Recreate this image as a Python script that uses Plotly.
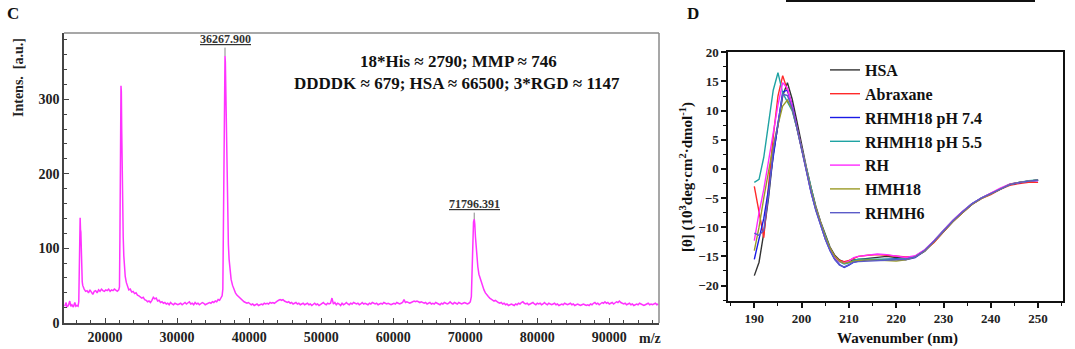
import plotly.graph_objects as go

W, H = 1075, 349

# ---------------- Panel C: MALDI-TOF spectrum ----------------
ms_mz = [14400, 14600, 14700, 14900, 15100, 15250, 15400, 15600, 15800, 15950, 16100, 16250, 16350, 16420, 16480, 16540, 16590, 16640, 16700, 16760, 16830, 16900, 16980,
         17100, 17300, 17500, 17700, 17900, 18100, 18300, 18500, 18700, 18900, 19100, 19300, 19500, 19700, 19900, 20100, 20300, 20500, 20700, 20900, 21100, 21300, 21500, 21700, 21900,
         22000, 22060, 22110, 22160, 22210, 22260, 22310, 22370, 22440, 22520, 22600, 22700, 22800, 22950, 23100, 23300, 23500, 23700, 23900, 24100, 24300, 24500, 24700, 24900,
         25100, 25300, 25500, 25700, 25900, 26100, 26300, 26500, 26700, 26900, 27100, 27300, 27500, 27700, 27900, 28100, 28300, 28500, 28700, 28900, 29100, 29300, 29500, 29700, 29900,
         30100, 30300, 30500, 30700, 30900, 31100, 31300, 31500, 31700, 31900, 32100, 32300, 32500, 32700, 32900, 33100, 33300, 33500, 33700, 33900, 34100, 34300, 34500, 34700, 34900,
         35100, 35300, 35500, 35700, 35900, 36100, 36250, 36350, 36420, 36480, 36540, 36600, 36650, 36700, 36760, 36820, 36880, 36950, 37030, 37120, 37220, 37350, 37500, 37700, 37900,
         38100, 38300, 38500, 38700, 38900, 39100, 39300, 39500, 39700, 39900, 40100, 40300, 40500, 40700, 40900, 41100, 41300, 41500, 41700, 41900, 42100, 42300, 42500, 42700, 42900,
         43100, 43300, 43500, 43700, 43900, 44100, 44300, 44500, 44700, 44900, 45100, 45300, 45500, 45700, 45900, 46100, 46300, 46500, 46700, 46900, 47100, 47300, 47500, 47700, 47900,
         48100, 48300, 48500, 48700, 48900, 49100, 49300, 49500, 49700, 49900, 50100, 50300, 50500, 50700, 50900, 51100, 51300, 51500, 51700, 51900, 52100, 52300, 52500, 52700, 52900,
         53100, 53300, 53500, 53700, 53900, 54100, 54300, 54500, 54700, 54900, 55100, 55300, 55500, 55700, 55900, 56100, 56300, 56500, 56700, 56900, 57100, 57300, 57500, 57700, 57900,
         58100, 58300, 58500, 58700, 58900, 59100, 59300, 59500, 59700, 59900, 60100, 60300, 60500, 60700, 60900, 61100, 61300, 61500, 61700, 61900, 62100, 62300, 62500, 62700, 62900,
         63100, 63300, 63500, 63700, 63900, 64100, 64300, 64500, 64700, 64900, 65100, 65300, 65500, 65700, 65900, 66100, 66300, 66500, 66700, 66900, 67100, 67300, 67500, 67700, 67900,
         68100, 68300, 68500, 68700, 68900, 69100, 69300, 69500, 69700, 69900, 70100, 70300, 70500, 70700, 70850, 70950, 71050, 71150, 71250, 71330, 71420, 71520, 71620, 71750, 71900,
         72050, 72200, 72400, 72600, 72800, 73000, 73200, 73400, 73600, 73800, 74000, 74200, 74400, 74600, 74800, 75000, 75200, 75400, 75600, 75800, 76000, 76200, 76400, 76600, 76800,
         77000, 77200, 77400, 77600, 77800, 78000, 78200, 78400, 78600, 78800, 79000, 79200, 79400, 79600, 79800, 80000, 80200, 80400, 80600, 80800, 81000, 81200, 81400, 81600, 81800,
         82000, 82200, 82400, 82600, 82800, 83000, 83200, 83400, 83600, 83800, 84000, 84200, 84400, 84600, 84800, 85000, 85200, 85400, 85600, 85800, 86000, 86200, 86400, 86600, 86800,
         87000, 87200, 87400, 87600, 87800, 88000, 88200, 88400, 88600, 88800, 89000, 89200, 89400, 89600, 89800, 90000, 90200, 90400, 90600, 90800, 91000, 91200, 91400, 91600, 91800,
         92000, 92200, 92400, 92600, 92800, 93000, 93200, 93400, 93600, 93800, 94000, 94200, 94400, 94600, 94800, 95000, 95200, 95400, 95600, 95800, 96000, 96200, 96400, 96600, 96800]

ms_int = [22, 27, 21, 23, 29, 22, 24, 21, 27, 22, 23, 22, 28, 70, 120, 141, 125, 122, 95, 62, 55, 50, 46,
          45, 42, 43, 40, 44, 41, 38, 42, 43, 40, 44, 42, 45, 43, 42, 44, 43, 45, 42, 44, 43, 45, 44, 42, 44,
          48, 110, 200, 290, 318, 310, 260, 200, 150, 115, 90, 72, 62, 54, 48, 44, 45, 41, 42, 39, 40, 37, 36, 35,
          33, 34, 31, 30, 28, 29, 27, 30, 34, 32, 33, 29, 30, 27, 28, 26, 27, 25, 26, 24, 27, 25, 24, 26, 25,
          24, 25, 26, 24, 25, 27, 25, 26, 28, 25, 26, 24, 27, 25, 26, 24, 25, 27, 26, 24, 25, 26, 27, 26, 28,
          27, 29, 28, 31, 30, 33, 36, 45, 120, 220, 300, 345, 358, 350, 310, 250, 200, 160, 130, 105, 85, 70, 58, 50, 44,
          40, 37, 35, 33, 31, 30, 28, 27, 26, 27, 25, 24, 25, 23, 24, 25, 23, 24, 25, 24, 26, 25, 26, 25, 27,
          26, 27, 26, 28, 29, 30, 31, 30, 31, 29, 28, 27, 28, 26, 27, 25, 26, 27, 25, 26, 24, 25, 26, 24, 25,
          26, 24, 25, 23, 24, 26, 24, 25, 23, 24, 25, 27, 25, 24, 26, 25, 26, 33, 25, 27, 24, 26, 25, 23, 26,
          24, 25, 27, 25, 24, 26, 25, 27, 26, 25, 26, 24, 25, 27, 25, 26, 25, 24, 26, 25, 27, 26, 25, 26, 24,
          25, 26, 25, 27, 26, 25, 26, 25, 24, 25, 26, 25, 27, 26, 25, 26, 27, 31, 27, 28, 27, 26, 27, 28, 29,
          28, 29, 28, 27, 28, 27, 26, 27, 25, 26, 27, 25, 26, 25, 27, 26, 25, 24, 26, 25, 27, 26, 25, 26, 28,
          26, 25, 27, 26, 25, 27, 26, 25, 26, 27, 26, 25, 26, 28, 35, 70, 115, 135, 139, 132, 115, 98, 88, 75, 65,
          60, 54, 48, 44, 40, 37, 35, 33, 32, 30, 29, 30, 28, 27, 26, 27, 25, 26, 24, 25, 23, 24, 25, 24, 23,
          25, 24, 26, 25, 27, 28, 26, 25, 26, 24, 25, 26, 27, 25, 24, 26, 25, 26, 24, 25, 27, 25, 24, 26, 25,
          24, 25, 26, 24, 25, 23, 24, 25, 24, 26, 25, 24, 25, 26, 24, 25, 23, 24, 25, 24, 23, 24, 25, 24, 23,
          24, 23, 25, 24, 26, 27, 25, 26, 24, 25, 27, 26, 28, 26, 27, 25, 26, 27, 25, 26, 28, 27, 29, 27, 26,
          25, 26, 24, 25, 26, 24, 25, 23, 24, 25, 24, 26, 25, 24, 23, 24, 25, 26, 24, 25, 24, 25, 26, 24, 25]

peak_labels = ["36267.900", "71796.391"]
peak_x = [36650, 71250]
peak_y = [358, 139]
ms_xticks = [20000, 30000, 40000, 50000, 60000, 70000, 80000, 90000]
ms_yticks = [0, 100, 200, 300]

# ---------------- Panel D: CD spectra ----------------
wl = [190, 191, 192, 193, 194, 195, 196, 197, 198, 199, 200, 201, 202, 203, 204, 205, 206, 207, 208, 209, 210, 211, 212,
      214, 216, 218, 220, 222, 224, 226, 228, 230, 232, 234, 236, 238, 240, 242, 244, 246, 248, 250]

cd_hsa = [-18.3, -16.0, -11.0, -5.0, 2.5, 7.5, 12.5, 14.8, 12.0, 8.2, 4.0, 0.3, -3.2, -6.4, -9.0, -11.4, -13.4, -14.8, -15.6, -16.0, -15.9, -15.6, -15.5,
          -15.3, -15.2, -15.0, -15.2, -15.3, -15.0, -14.1, -12.5, -10.7, -9.0, -7.5, -6.1, -5.0, -4.2, -3.3, -2.6, -2.3, -2.1, -1.9]
cd_abraxane = [-3.0, -7.5, -11.8, -3.0, 5.5, 12.5, 16.0, 13.5, 10.8, 7.2, 3.4, -0.4, -3.8, -6.9, -9.4, -11.7, -13.6, -15.0, -15.7, -15.9, -15.7, -15.3, -15.0,
               -14.8, -14.7, -14.8, -15.0, -15.1, -15.0, -14.0, -12.6, -10.8, -9.0, -7.5, -6.1, -5.1, -4.4, -3.5, -2.8, -2.5, -2.3, -2.3]
cd_rhmh18_74 = [-15.5, -12.0, -8.5, -3.5, 2.0, 7.5, 13.2, 13.5, 11.0, 7.3, 3.4, -0.5, -4.0, -7.0, -9.6, -12.0, -14.0, -15.5, -16.4, -16.9, -16.5, -16.0, -15.8,
                -15.6, -15.6, -15.5, -15.4, -15.6, -15.2, -14.1, -12.4, -10.6, -8.9, -7.4, -6.0, -5.0, -4.2, -3.4, -2.7, -2.4, -2.1, -2.0]
cd_rhmh18_55 = [-2.3, -1.8, 2.0, 8.0, 13.5, 16.5, 13.0, 11.5, 10.0, 7.0, 3.5, 0.0, -3.5, -6.6, -9.2, -11.6, -13.6, -15.1, -15.9, -16.3, -16.1, -15.7, -15.5,
                -15.5, -15.5, -15.6, -15.5, -15.4, -15.0, -13.9, -12.3, -10.5, -8.8, -7.3, -6.0, -5.0, -4.2, -3.4, -2.7, -2.3, -2.0, -1.9]
cd_rh = [-12.3, -7.5, -3.5, 1.5, 6.5, 11.0, 14.8, 13.8, 10.8, 7.2, 3.3, -0.4, -3.8, -6.8, -9.4, -11.8, -13.8, -15.2, -15.9, -16.1, -15.8, -15.2, -15.0,
         -14.8, -14.6, -14.7, -15.0, -15.2, -14.9, -13.9, -12.3, -10.5, -8.8, -7.3, -6.0, -5.0, -4.1, -3.3, -2.6, -2.3, -2.1, -2.0]
cd_hmh18 = [-14.0, -10.0, -5.0, -0.5, 4.0, 7.5, 10.8, 11.8, 10.2, 7.0, 3.4, -0.2, -3.6, -6.7, -9.3, -11.6, -13.6, -15.0, -15.8, -16.2, -16.0, -15.8, -15.7,
            -15.6, -15.6, -15.7, -15.8, -15.6, -15.1, -14.1, -12.5, -10.7, -9.0, -7.5, -6.1, -5.1, -4.3, -3.4, -2.7, -2.3, -2.1, -1.9]
cd_rhmh6 = [-11.0, -11.4, -10.5, -4.5, 3.0, 8.0, 12.8, 12.6, 10.4, 7.0, 3.2, -0.6, -4.0, -7.1, -9.7, -12.0, -14.0, -15.5, -16.5, -16.8, -16.4, -16.0, -15.9,
            -15.8, -15.8, -15.6, -15.5, -15.5, -15.1, -14.0, -12.4, -10.6, -8.9, -7.4, -6.0, -5.0, -4.2, -3.4, -2.7, -2.3, -2.1, -1.9]

cd_names = ["HSA", "Abraxane", "RHMH18 pH 7.4", "RHMH18 pH 5.5", "RH", "HMH18", "RHMH6"]
cd_series = [cd_hsa, cd_abraxane, cd_rhmh18_74, cd_rhmh18_55, cd_rh, cd_hmh18, cd_rhmh6]
cd_colors = ["#333333", "#ff2a2a", "#1a1ae6", "#1fa3a3", "#ff2aff", "#9a9a26", "#5b5bc8"]
cd_xticks = [190, 200, 210, 220, 230, 240, 250]
cd_yticks = [-20, -15, -10, -5, 0, 5, 10, 15, 20]

SERIF = "Liberation Serif, Times New Roman, serif"


def px(x):
    return x / W


def py(y):
    return 1 - y / H


fig = go.Figure()

fig.add_trace(go.Scatter(x=ms_mz, y=ms_int, mode="lines", line=dict(color="#ff33ff", width=1.5),
                         xaxis="x", yaxis="y", showlegend=False, hoverinfo="skip"))

for name, ser, col in zip(cd_names, cd_series, cd_colors):
    fig.add_trace(go.Scatter(x=wl, y=ser, mode="lines", name=name, line=dict(color=col, width=1.4),
                             xaxis="x2", yaxis="y2"))

tickfont_c = dict(family=SERIF, size=14, color="#222", weight="bold")
tickfont_d = dict(family=SERIF, size=13, color="#222", weight="bold")

fig.update_layout(
    template="none",
    width=W, height=H,
    margin=dict(l=0, r=0, t=0, b=0, autoexpand=False),
    paper_bgcolor="white", plot_bgcolor="white",
    font=dict(family=SERIF, color="#222"),
    xaxis=dict(domain=[px(64), px(659)], range=[14300, 96900], tickvals=ms_xticks, tickformat="d",
               automargin=False,
               ticks="inside", ticklen=5, tickcolor="#444", showgrid=False, zeroline=False,
               showline=True, linecolor="#444", linewidth=1.5, tickfont=tickfont_c,
               minor=dict(dtick=2000, ticks="inside", ticklen=3, tickcolor="#444", showgrid=False), anchor="y"),
    yaxis=dict(domain=[py(323), py(33)], range=[-0.5, 389], tickvals=ms_yticks,
               automargin=False,
               ticks="inside", ticklen=5, tickcolor="#444", showgrid=False, zeroline=False,
               showline=True, linecolor="#444", linewidth=1.5, tickfont=tickfont_c,
               minor=dict(dtick=20, ticks="inside", ticklen=3, tickcolor="#444", showgrid=False), anchor="x"),
    xaxis2=dict(domain=[px(728.3), px(1062.7)], range=[184.5, 255.2], tickvals=cd_xticks,
                automargin=False,
                ticks="outside", ticklen=5, tickwidth=1.5, tickcolor="#111", showgrid=False, zeroline=False,
                showline=True, mirror=True, linecolor="#111", linewidth=2, tickfont=tickfont_d,
                minor=dict(dtick=5, tick0=185, ticks="outside", ticklen=3, tickwidth=1.2, tickcolor="#111", showgrid=False),
                anchor="y2"),
    yaxis2=dict(domain=[py(300.7), py(52.3)], range=[-22.6, 20], tickvals=cd_yticks,
                automargin=False,
                ticks="outside", ticklen=5, tickwidth=1.5, tickcolor="#111", showgrid=False, zeroline=False,
                showline=True, mirror=True, linecolor="#111", linewidth=2, tickfont=tickfont_d,
                minor=dict(dtick=2.5, tick0=0, ticks="outside", ticklen=3, tickwidth=1.2, tickcolor="#111", showgrid=False),
                anchor="x2"),
    legend=dict(x=px(825), y=py(53), xanchor="left", yanchor="top", bgcolor="rgba(0,0,0,0)",
                font=dict(family=SERIF, size=16, color="#111", weight="bold"), itemwidth=30,
                tracegroupgap=0),
)

# frame (top / right) of panel C in grey
fig.add_shape(type="line", xref="paper", yref="paper", x0=px(64), x1=px(659), y0=py(33), y1=py(33),
              line=dict(color="#8a8a8a", width=1.5))
fig.add_shape(type="line", xref="paper", yref="paper", x0=px(659), x1=px(659), y0=py(33), y1=py(323),
              line=dict(color="#8a8a8a", width=1.5))
# thin line at the top edge (above panel D)
fig.add_shape(type="line", xref="paper", yref="paper", x0=px(786), x1=px(1035), y0=py(1), y1=py(1),
              line=dict(color="#111", width=2))


def note(text, x, y, size, angle=0, color="#111"):
    return dict(text=text, x=px(x), y=py(y), xref="paper", yref="paper", showarrow=False,
                xanchor="center", yanchor="middle", textangle=angle,
                font=dict(family=SERIF, size=size, color=color))


ann = []
ann.append(note("<b>C</b>", 13, 13, 17))
ann.append(note("<b>D</b>", 693, 13, 17))
ann.append(note("<b>Intens.  [a.u.]</b>", 18, 78, 14, -90, "#222"))
ann.append(note("<b>m/z</b>", 650, 338, 14, 0, "#222"))
ann.append(note("<b>18*His ≈ 2790; MMP ≈ 746</b>", 458, 62, 17))
ann.append(note("<b>DDDDK ≈ 679; HSA ≈ 66500; 3*RGD ≈ 1147</b>", 457, 84, 17))
for lab, x, y, ay in zip(peak_labels, peak_x, peak_y, [-17, -15]):
    ann.append(dict(text="<b><u>" + lab + "</u></b>", x=x, y=y, xref="x", yref="y", showarrow=True,
                    arrowhead=0, arrowwidth=1, arrowcolor="#888", ax=0, ay=ay,
                    font=dict(family=SERIF, size=12, color="#333")))
ann.append(note("<b>Wavenumber (nm)</b>", 897, 338, 15))
ann.append(note("<b>[θ] (10<sup>3</sup>deg·cm<sup>2</sup>·dmol<sup>-1</sup>)</b>", 686, 177, 15, -90))
fig.update_layout(annotations=ann)

fig.write_html("out.html")
